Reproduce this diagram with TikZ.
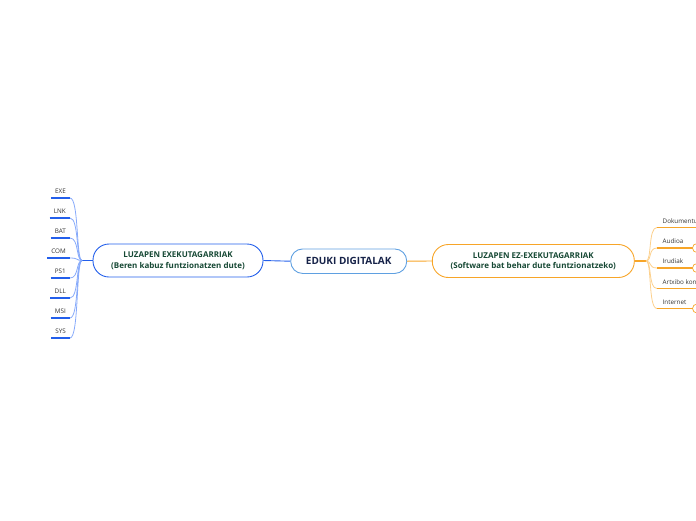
\documentclass[tikz,border=0pt]{standalone}
\usepackage{fontspec}
\setmainfont{Open Sans}
\usetikzlibrary{positioning}
\definecolor{exeblue}{RGB}{35,95,235}
\definecolor{exetwig}{RGB}{135,170,250}
\definecolor{rootblue}{RGB}{95,160,225}
\definecolor{ezorange}{RGB}{247,165,40}
\definecolor{eztwig}{RGB}{252,208,140}
\definecolor{topictext}{RGB}{22,72,52}
\definecolor{roottext}{RGB}{22,34,72}
\tikzset{
  root/.style={draw=rootblue, line width=0.9pt, rounded corners=12pt,
    minimum width=116pt, minimum height=24.5pt, text=roottext,
    font=\bfseries\fontsize{10}{12}\selectfont},
  topic/.style={line width=0.9pt, rounded corners=16pt, minimum height=33pt,
    align=center, text=topictext, font=\bfseries\fontsize{8}{10.5}\selectfont},
  leaf/.style={inner xsep=4pt, inner ysep=4pt, text depth=0pt,
    text=black!80, font=\fontsize{6.3}{7}\selectfont},
  underline/.style={line width=1.4pt},
  twig/.style={line width=0.8pt},
  knob/.style={circle, draw=ezorange, fill=white, line width=0.7pt,
    minimum size=9pt, inner sep=0pt}
}
\begin{document}
\begin{tikzpicture}[x=1pt,y=-1pt]
\clip (0,0) rectangle (696,520);
\node[root] (eduki) at (348.7,261.2) {EDUKI DIGITALAK};
\node[topic, draw=exeblue, minimum width=170pt] (exe) at (178,260.5)
  {LUZAPEN EXEKUTAGARRIAK\\(Beren kabuz funtzionatzen dute)};
\node[topic, draw=ezorange, minimum width=202pt] (ez) at (533.3,261)
  {LUZAPEN EZ-EXEKUTAGARRIAK\\(Software bat behar dute funtzionatzeko)};
\draw[exeblue, line width=0.9pt] (exe.east) -- (eduki.west);
\draw[ezorange, line width=0.9pt] (eduki.east) -- (ez.west);
% exekutagarriak
\coordinate (jl) at (82,260.5);
\draw[exeblue, underline] (exe.west) -- (jl);
\foreach \name/\txt/\y in {exe/EXE/198, lnk/LNK/218, bat/BAT/238, com/COM/258,
    ps/PS1/278, dll/DLL/298, msi/MSI/318, sys/SYS/338} {
  \node[leaf, anchor=south east] (l-\name) at (70,\y) {\txt};
  \draw[exetwig, twig] (l-\name.south east) .. controls +(9,0) and +(-6,0) .. (jl);
  \draw[exeblue, underline] (l-\name.south west) -- (l-\name.south east);
}
% ez-exekutagarriak
\coordinate (jr) at (646,261);
\draw[ezorange, underline] (ez.east) -- (jr);
\foreach \name/\txt/\y in {dok/Dokumentuak/227.5, aud/Audioa/248, iru/Irudiak/268,
    art/Artxibo konprimituak/288.5, int/Internet/308.5} {
  \node[leaf, inner xsep=5.5pt, anchor=south west] (r-\name) at (657,\y) {\txt};
  \draw[eztwig, twig] (jr) .. controls +(6,0) and +(-9,0) .. (r-\name.south west);
  \draw[ezorange, underline] (r-\name.south west) -- (710,\y);
}
\node[knob] (k-aud) at (697,248) {};
\node[knob] (k-iru) at (697,268) {};
\node[knob] (k-int) at (697,308.5) {};
\end{tikzpicture}
\end{document}
